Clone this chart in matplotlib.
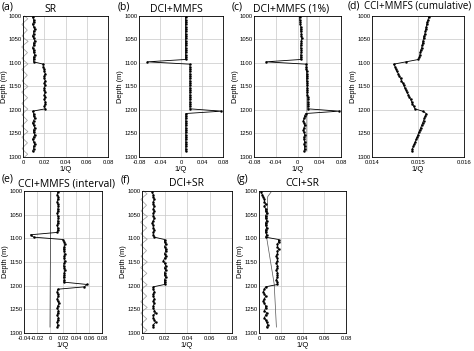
import matplotlib
matplotlib.use("Agg")
import matplotlib.pyplot as plt
from matplotlib.ticker import FuncFormatter

plt.rcParams['axes.unicode_minus'] = False
plt.rcParams['font.family'] = ['Liberation Sans', 'DejaVu Sans']

W, H = 474, 351

depth = [1002.5, 1007.5, 1012.5, 1017.5, 1022.5, 1027.5, 1032.5, 1037.5, 1042.5, 1047.5,
         1052.5, 1057.5, 1062.5, 1067.5, 1072.5, 1077.5, 1082.5, 1087.5, 1092.5, 1097.5,
         1102.5, 1107.5, 1112.5, 1117.5, 1122.5, 1127.5, 1132.5, 1137.5, 1142.5, 1147.5,
         1152.5, 1157.5, 1162.5, 1167.5, 1172.5, 1177.5, 1182.5, 1187.5, 1192.5, 1197.5,
         1202.5, 1207.5, 1212.5, 1217.5, 1222.5, 1227.5, 1232.5, 1237.5, 1242.5, 1247.5,
         1252.5, 1257.5, 1262.5, 1267.5, 1272.5, 1277.5, 1282.5, 1287.5]

# (a) SR
q_sr = ([0.009, 0.010, 0.010, 0.009, 0.010, 0.011, 0.010, 0.010, 0.009, 0.010,
         0.011, 0.010, 0.010, 0.009, 0.010, 0.010, 0.011, 0.010, 0.010, 0.010]
        + [0.019, 0.019, 0.020, 0.020, 0.021, 0.020, 0.020, 0.021, 0.020, 0.021,
           0.020, 0.020, 0.021, 0.020, 0.021, 0.020, 0.021, 0.021, 0.020, 0.021]
        + [0.009, 0.010, 0.010, 0.011, 0.010, 0.009, 0.010, 0.011, 0.010, 0.010,
           0.011, 0.010, 0.009, 0.010, 0.011, 0.010, 0.010, 0.009])

# (b) DCI+MMFS
q_dci_mmfs = ([0.0087] * 19 + [-0.064] + [0.017] * 20 + [0.077] + [0.009] * 17)

# (c) DCI+MMFS (1%)
q_dci_mmfs1 = ([0.004, 0.004, 0.005, 0.005, 0.006, 0.006, 0.006, 0.007, 0.007, 0.008,
                0.007, 0.007, 0.006, 0.006, 0.007, 0.007, 0.006, 0.006, 0.006]
               + [-0.058]
               + [0.016, 0.016, 0.016, 0.017, 0.017, 0.017, 0.017, 0.017, 0.018, 0.018,
                  0.018, 0.018, 0.018, 0.018, 0.019, 0.019, 0.019, 0.019, 0.019, 0.019]
               + [0.076]
               + [0.015, 0.013, 0.012, 0.011, 0.012, 0.013, 0.012, 0.011, 0.012, 0.013,
                  0.012, 0.012, 0.013, 0.012, 0.013, 0.013, 0.012])
ref_c_depth = [1002.5, 1287.5]
ref_c_q = [0.0175, 0.0172]

# (d) CCI+MMFS (cumulative)
q_cci_cum = ([0.01523, 0.01522, 0.01520, 0.01519, 0.01518, 0.01517, 0.01516, 0.01515,
              0.01513, 0.01512, 0.01511, 0.01510, 0.01509, 0.01508, 0.01506, 0.01505,
              0.01504, 0.01503, 0.01501]
             + [0.01474]
             + [0.01447, 0.01450, 0.01452, 0.01454, 0.01457, 0.01459, 0.01462, 0.01464,
                0.01467, 0.01469, 0.01471, 0.01474, 0.01476, 0.01479, 0.01481, 0.01484,
                0.01486, 0.01488, 0.01491, 0.01493]
             + [0.01510, 0.01518]
             + [0.01516, 0.01514, 0.01512, 0.01510, 0.01508, 0.01506, 0.01504, 0.01502,
                0.01500, 0.01498, 0.01496, 0.01494, 0.01492, 0.01490, 0.01488, 0.01487])

# (e) CCI+MMFS (interval)
q_cci_int = ([0.012, 0.011, 0.013, 0.012, 0.011, 0.012, 0.013, 0.012, 0.012, 0.011,
              0.012, 0.013, 0.012, 0.012, 0.011, 0.012, 0.012, 0.011]
             + [-0.030, -0.025]
             + [0.020, 0.022, 0.023, 0.022, 0.021, 0.022, 0.023, 0.022, 0.022, 0.023,
                0.022, 0.021, 0.022, 0.023, 0.022, 0.022, 0.021, 0.022, 0.021]
             + [0.057, 0.053, 0.012]
             + [0.011, 0.012, 0.013, 0.011, 0.012, 0.014, 0.012, 0.011, 0.013, 0.012,
                0.011, 0.013, 0.012, 0.011, 0.012, 0.011])
ref_e_depth = [1002.5, 1100.0, 1200.0, 1287.5]
ref_e_q = [0.0012, 0.0008, 0.0003, 0.0]

# (f) DCI+SR
q_dci_sr = ([0.009, 0.010, 0.010, 0.011, 0.010, 0.010, 0.011, 0.010, 0.011, 0.010,
             0.010, 0.011, 0.010, 0.009, 0.010, 0.010, 0.011, 0.010, 0.010, 0.011]
            + [0.020, 0.020, 0.021, 0.020, 0.021, 0.021, 0.020, 0.021, 0.020, 0.019,
               0.020, 0.021, 0.020, 0.021, 0.020, 0.020, 0.021, 0.020, 0.020, 0.020]
            + [0.010, 0.010, 0.011, 0.010, 0.010, 0.011, 0.010, 0.011, 0.010, 0.010,
               0.011, 0.012, 0.010, 0.010, 0.011, 0.012, 0.010, 0.010])

# (g) CCI+SR
q_cci_sr = ([0.002, 0.003, 0.004, 0.005, 0.005, 0.006, 0.005, 0.006, 0.006, 0.007,
             0.006, 0.006, 0.007, 0.006, 0.006, 0.007, 0.006, 0.006, 0.007, 0.006]
            + [0.018, 0.018, 0.017, 0.017, 0.018, 0.017, 0.017, 0.016, 0.017, 0.017,
               0.016, 0.017, 0.017, 0.016, 0.017, 0.017, 0.017, 0.016, 0.017, 0.017]
            + [0.006, 0.005, 0.004, 0.005, 0.006, 0.005, 0.004, 0.005, 0.006, 0.006,
               0.005, 0.007, 0.006, 0.005, 0.006, 0.007, 0.008, 0.007])
ref_g_depth = [1002.5, 1012.0, 1098.0, 1197.0, 1287.5]
ref_g_q = [0.011, 0.008, 0.007, 0.014, 0.016]

# gray wavy reference trace in (a) and (f)
wave_depth = [1000, 1006, 1012, 1018, 1024, 1030, 1036, 1042, 1048, 1054,
              1060, 1066, 1072, 1078, 1084, 1090, 1096, 1102, 1108, 1114,
              1120, 1126, 1132, 1138, 1144, 1150, 1156, 1162, 1168, 1174,
              1180, 1186, 1192, 1198, 1204, 1210, 1216, 1222, 1228, 1234,
              1240, 1246, 1252, 1258, 1264, 1270, 1276, 1282, 1288, 1294, 1300]
wave_q = [0.0015, 0.0045, 0.0015, -0.0010, 0.0015, 0.0040, 0.0015, -0.0008,
          0.0015, 0.0048, 0.0015, -0.0012, 0.0015, 0.0042, 0.0015, -0.0009,
          0.0015, 0.0046, 0.0015, -0.0011, 0.0015, 0.0040, 0.0015, -0.0008,
          0.0015, 0.0047, 0.0015, -0.0012, 0.0015, 0.0043, 0.0015, -0.0010,
          0.0015, 0.0045, 0.0015, -0.0009, 0.0015, 0.0041, 0.0015, -0.0011,
          0.0015, 0.0046, 0.0015, -0.0010, 0.0015, 0.0042, 0.0015, -0.0008,
          0.0015, 0.0044, 0.0015]

depth_ticks = [1000, 1050, 1100, 1150, 1200, 1250, 1300]
xt_pos = [0, 0.02, 0.04, 0.06, 0.08]
xt_sym = [-0.08, -0.04, 0, 0.04, 0.08]
xt_cum = [0.014, 0.015, 0.016]
xt_int = [-0.04, -0.02, 0, 0.02, 0.04, 0.06, 0.08]

fig = plt.figure(figsize=(W / 100, H / 100), dpi=100)


def px_axes(l, r, t, b):
    ax = fig.add_axes([l / W, 1 - b / H, (r - l) / W, (b - t) / H])
    ax._px_w = r - l
    return ax


def style(ax, xticks, xlim):
    ax.set_ylim(1300, 1000)
    ax.set_xlim(*xlim)
    ax.set_yticks(depth_ticks)
    ax.set_xticks(xticks)
    ax.xaxis.set_major_formatter(FuncFormatter(lambda v, p: '%g' % round(v, 4)))
    ax.grid(True, color='#c8c8c8', lw=0.5)
    ax.set_axisbelow(True)
    ax.tick_params(length=0, labelsize=4.2)
    ax.tick_params(axis='y', pad=1.1)
    ax.tick_params(axis='x', pad=1.8)
    for s in ax.spines.values():
        s.set_linewidth(0.6)
    ax.set_ylabel('Depth (m)', fontsize=5.3)
    ax.yaxis.set_label_coords(-15.2 / ax._px_w, 0.5)
    ax.set_xlabel('1/Q', fontsize=5.5, labelpad=1.2)


def data(ax, q):
    ax.plot(q, depth, color='black', lw=0.6, marker='o', ms=1.4,
            mfc='black', mec='black', mew=0.3)


title_font = dict(family=['Open Sans', 'DejaVu Sans'], fontsize=7.5, ha='center', va='center')


def lab(x, y, s, **kw):
    d = dict(title_font)
    d.update(kw)
    fig.text(x / W, 1 - y / H, s, **d)


wave_style = dict(color='#a0a0a0', lw=0.55, clip_on=False)

# (a)
ax = px_axes(23, 108, 16, 157)
style(ax, xt_pos, (0, 0.08))
ax.plot(wave_q, wave_depth, **wave_style)
data(ax, q_sr)
lab(8, 7, '(a)')
lab(51, 9, 'SR')

# (b)
ax = px_axes(139, 223, 16, 157)
style(ax, xt_sym, (-0.08, 0.08))
data(ax, q_dci_mmfs)
lab(124, 7, '(b)')
lab(176, 9, 'DCI+MMFS')

# (c)
ax = px_axes(254, 341, 16, 157)
style(ax, xt_sym, (-0.08, 0.08))
ax.plot(ref_c_q, ref_c_depth, color='#555555', lw=0.5)
data(ax, q_dci_mmfs1)
lab(237, 7, '(c)')
lab(291, 9, 'DCI+MMFS (1%)')

# (d)
ax = px_axes(372, 464, 16, 157)
style(ax, xt_cum, (0.014, 0.016))
data(ax, q_cci_cum)
lab(354, 6, '(d)')
lab(364, 6, 'CCI+MMFS (cumulative)', ha='left', fontsize=7)

# (e)
ax = px_axes(24, 102, 191, 333)
style(ax, xt_int, (-0.04, 0.08))
ax.plot(ref_e_q, ref_e_depth, color='#333333', lw=0.5)
data(ax, q_cci_int)
lab(8, 179, '(e)')
lab(66, 184, 'CCI+MMFS (interval)')

# (f)
ax = px_axes(142, 232, 191, 333)
style(ax, xt_pos, (0, 0.08))
ax.plot(wave_q, wave_depth, **wave_style)
data(ax, q_dci_sr)
lab(125, 180, '(f)')
lab(186, 184, 'DCI+SR')

# (g)
ax = px_axes(259, 346, 191, 333)
style(ax, xt_pos, (0, 0.08))
ax.plot(ref_g_q, ref_g_depth, color='#555555', lw=0.5)
data(ax, q_cci_sr)
lab(242, 180, '(g)')
lab(302, 184, 'CCI+SR')

fig.savefig('out.png', dpi=100)
